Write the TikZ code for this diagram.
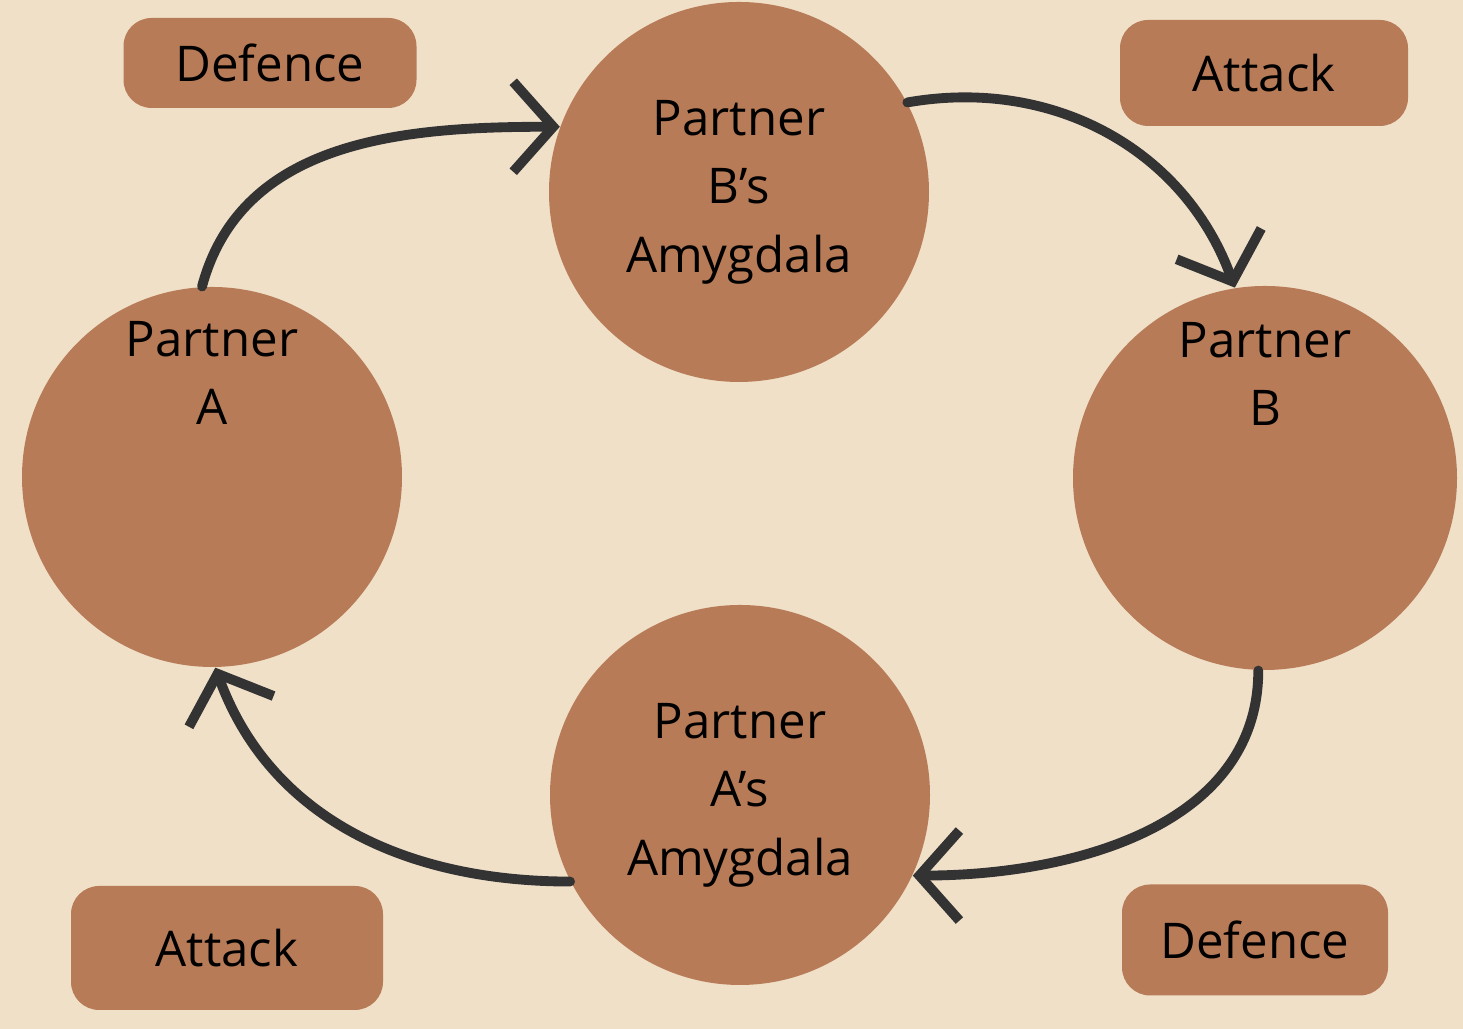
\documentclass[tikz,border=0pt]{standalone}
\usepackage{fontspec}
\setmainfont{Open Sans}
\usetikzlibrary{arrows.meta}
\definecolor{BgColor}{HTML}{F0E0C8}
\definecolor{BrainColor}{HTML}{B87B58}
\definecolor{ArrowColor}{HTML}{333333}

\begin{document}
\begin{tikzpicture}[
      person/.style={circle,fill=BrainColor,minimum size=3.8cm,inner sep=0pt,
        align=center,font=\fontsize{14}{19.5}\selectfont},
      tag/.style={rectangle,rounded corners=8pt,fill=BrainColor,inner sep=0pt,
        font=\fontsize{14}{17}\selectfont},
      flow/.style={-{Straight Barb[length=4mm,width=9mm]},line width=2.8pt,
        draw=ArrowColor,line cap=round}
    ]
    \fill[BgColor] (0,0) rectangle (14.63,10.29);
    \useasboundingbox (0,0) rectangle (14.63,10.29);
    \node[person] (ba) at (7.39,8.37) {Partner\\B's\\Amygdala};
    \node[person] (pa) at (2.12,5.52) {Partner\\A\\[1.4cm]};
    \node[person,minimum size=3.84cm] (pb) at (12.65,5.51) {Partner\\B\\[1.4cm]};
    \node[person] (aa) at (7.40,2.34) {Partner\\A's\\Amygdala};
    \node[tag,minimum width=2.93cm,minimum height=0.9cm] (d1) at (2.70,9.66) {Defence};
    \node[tag,minimum width=2.88cm,minimum height=1.06cm] (a1) at (12.64,9.56) {Attack};
    \node[tag,minimum width=3.12cm,minimum height=1.24cm] (a2) at (2.27,0.81) {Attack};
    \node[tag,minimum width=2.66cm,minimum height=1.11cm] (d2) at (12.55,0.89) {Defence};
    % the cycle
    \draw[flow] (pa.93) to[out=75,in=180] (ba.160);
    \draw[flow] (ba.28) to[out=10,in=110] (pb.99);
    \draw[flow] (pb.-92) to[out=-90,in=0] (aa.-25);
    \draw[flow] (aa.-153) to[out=180,in=-70] (pa.-89);
  \end{tikzpicture}
\end{document}
